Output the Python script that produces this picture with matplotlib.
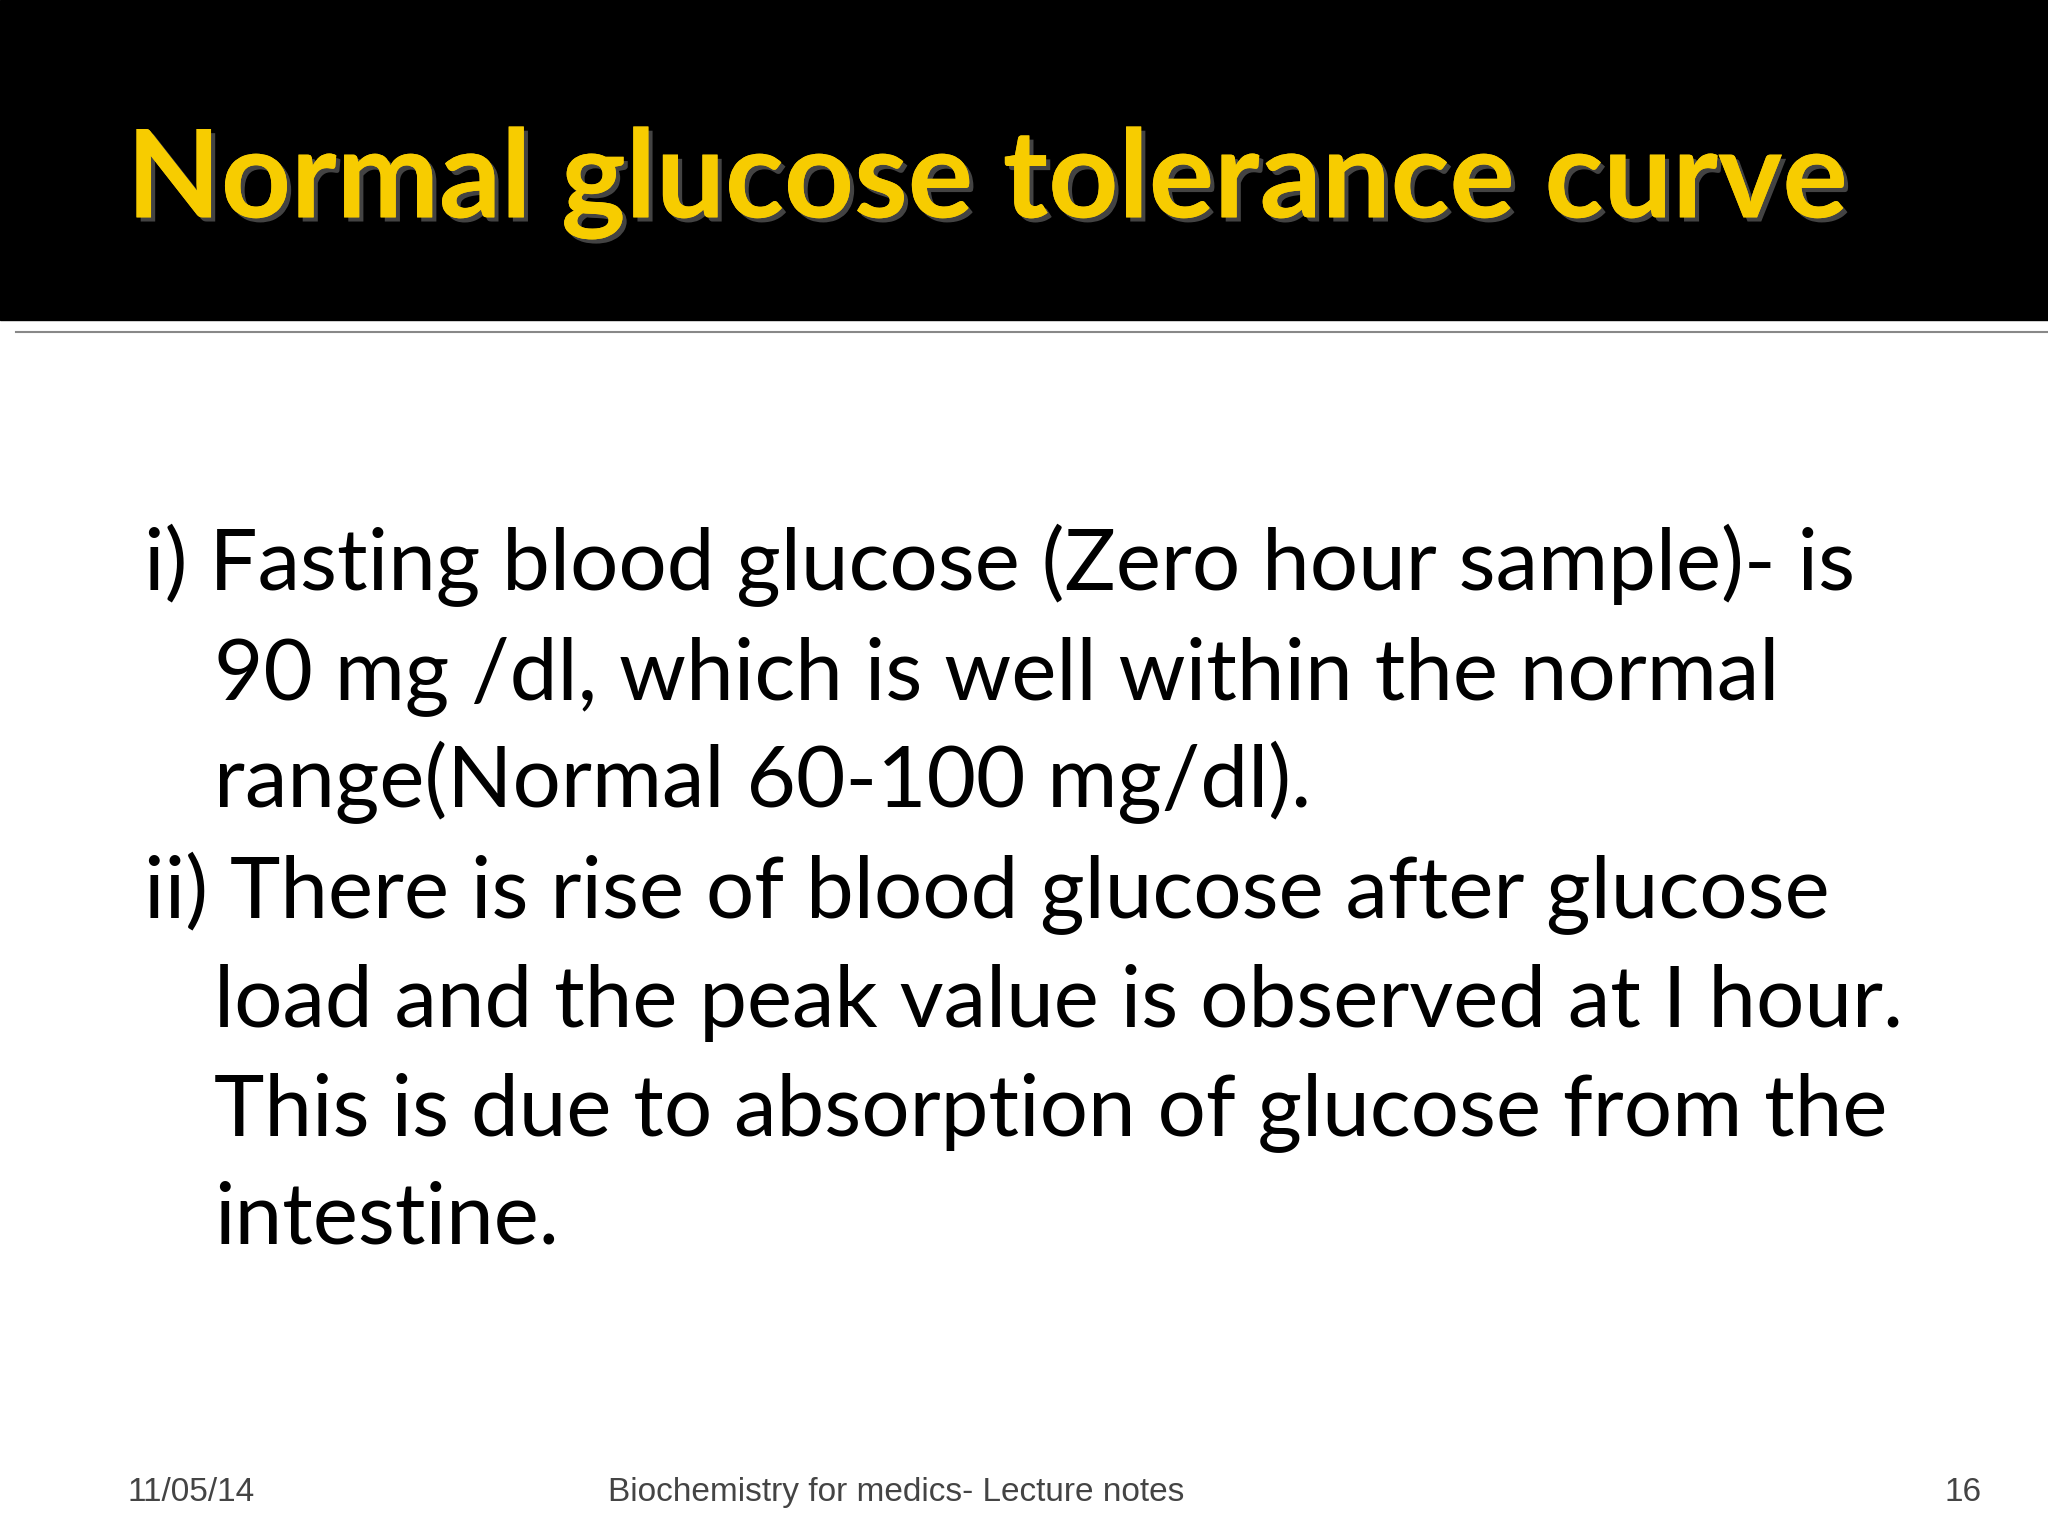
import matplotlib
matplotlib.use("Agg")
import matplotlib.pyplot as plt
from matplotlib.patches import Rectangle
from matplotlib.lines import Line2D
import matplotlib.patheffects as pe

title = "Normal glucose tolerance curve"
body_lines = [
    ("i) Fasting blood glucose (Zero hour sample)- is", 0),
    ("90 mg /dl, which is well within the normal", 1),
    ("range(Normal 60-100 mg/dl).", 1),
    ("ii) There is rise of blood glucose after glucose", 0),
    ("load and the peak value is observed at I hour.", 1),
    ("This is due to absorption of glucose from the", 1),
    ("intestine.", 1),
]
baselines = [452, 535, 618, 703, 786, 869, 952]
footer_date = "11/05/14"
footer_center = "Biochemistry for medics- Lecture notes"
footer_page = "16"

W, H = 1568, 1176
fig = plt.figure(figsize=(20.48, 15.36), dpi=100)
fig.patch.set_facecolor("white")

def fx(x): return x / W
def fy(y): return 1 - y / H

fig.add_artist(Rectangle((0, fy(245)), 1, 245 / H, transform=fig.transFigure, color="black"))
fig.add_artist(Line2D([fx(12), 1], [fy(254), fy(254)], transform=fig.transFigure, color="#888888", lw=1.5))

fig.text(fx(97), fy(140), title, color="#F7CC00", fontsize=88, fontweight="bold",
         family="Lato", va="center", ha="left",
         path_effects=[pe.withSimplePatchShadow(offset=(3, -3), shadow_rgbFace="#555555", alpha=0.8), pe.Normal()])

for (txt, ind), b in zip(body_lines, baselines):
    fig.text(fx(110 if ind == 0 else 164), fy(b), txt, fontsize=61.5, family="Lato",
             color="black", va="baseline", ha="left")

fig.text(fx(98), fy(1143), footer_date, fontsize=24, family="Liberation Sans", color="#444444", va="center")
fig.text(fx(686), fy(1143), footer_center, fontsize=24, family="Liberation Sans", color="#444444", va="center", ha="center")
fig.text(fx(1517), fy(1143), footer_page, fontsize=24, family="Liberation Sans", color="#444444", va="center", ha="right")

fig.savefig("out.png", dpi=100, facecolor="white")
